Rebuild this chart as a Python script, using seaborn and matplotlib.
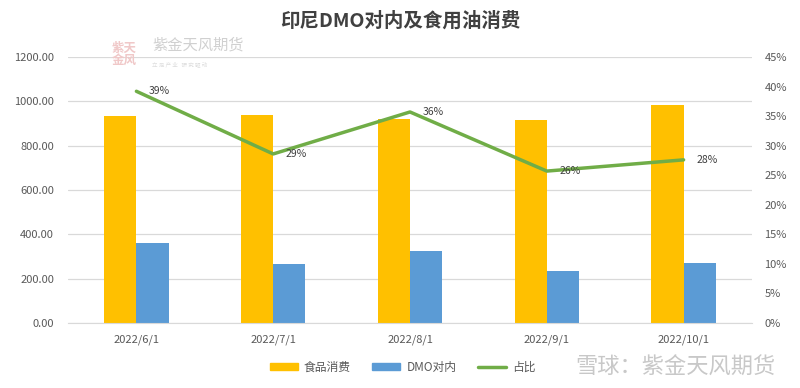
#%% ---- Load Packages ----
import pandas as pd
import numpy as np
import matplotlib
matplotlib.use("Agg")
import matplotlib.pyplot as plt
import seaborn as sns
from matplotlib.lines import Line2D
from matplotlib.patches import Patch

# %% ---- Data ----
dates = ["2022/6/1", "2022/7/1", "2022/8/1", "2022/9/1", "2022/10/1"]
food = [934, 937, 920, 916, 982]      # 食品消费
dmo = [362, 266, 326, 235, 269]       # DMO对内
ratio = [39.2, 28.6, 35.7, 25.7, 27.6]  # 占比 (%)
ratio_labels = ["39%", "29%", "36%", "26%", "28%"]

df = pd.DataFrame({
    "date": dates * 2,
    "value": food + dmo,
    "series": ["食品消费"] * len(dates) + ["DMO对内"] * len(dates),
})

# %% ---- Style ----
sns.set_style("white")
plt.rcParams["font.family"] = ["Noto Sans CJK SC", "DejaVu Sans"]
grey = "#595959"
c_food, c_dmo, c_line = "#FFC000", "#5B9BD5", "#70AD47"

fig = plt.figure(figsize=(8, 3.88), dpi=100)
ax = fig.add_axes([0.085, 0.1675, 0.855, 0.6856])

sns.barplot(data=df, x="date", y="value", hue="series",
            palette=[c_food, c_dmo], width=0.47, gap=0, ax=ax,
            legend=False, saturation=1, linewidth=0)

ax.set_xlim(-0.5, 4.5)
ax.set_ylim(0, 1200)
ax.set_yticks(np.arange(0, 1201, 200))
ax.set_yticklabels([f"{v:.2f}" for v in np.arange(0, 1201, 200)])
ax.yaxis.grid(True, color="#D9D9D9", lw=0.9)
ax.set_axisbelow(True)
ax.set_xlabel("")
ax.set_ylabel("")
for s in ["top", "right", "left"]:
    ax.spines[s].set_visible(False)
ax.spines["bottom"].set_color("#D9D9D9")
ax.tick_params(axis="y", length=0, labelsize=8, colors=grey, pad=10)
ax.tick_params(axis="x", length=0, labelsize=8, colors=grey, pad=8)
# small ticks between categories
ax.set_xticks(np.arange(-0.5, 5, 1), minor=True)
ax.tick_params(axis="x", which="minor", length=4, color="#D9D9D9")

# ---- line on secondary axis ----
ax2 = ax.twinx()
x = np.arange(len(dates))
ax2.plot(x, ratio, color=c_line, lw=2.5)
ax2.set_ylim(0, 45)
ax2.set_yticks(np.arange(0, 46, 5))
ax2.set_yticklabels([f"{v}%" for v in range(0, 46, 5)])
ax2.tick_params(axis="y", length=0, labelsize=8, colors=grey, pad=9)
for s in ["top", "right", "left", "bottom"]:
    ax2.spines[s].set_visible(False)
for xi, yi, lab in zip(x, ratio, ratio_labels):
    ax2.annotate(lab, (xi, yi), xytext=(9, 0), textcoords="offset points",
                 ha="left", va="center", fontsize=7.5, color="#404040")

# ---- title & legend ----
fig.text(0.5, 0.945, "印尼DMO对内及食用油消费", ha="center", va="center",
         fontsize=14, fontweight="bold", color="#404040")

handles = [Patch(color=c_food, label="食品消费"),
           Patch(color=c_dmo, label="DMO对内"),
           Line2D([0], [0], color=c_line, lw=2.5, label="占比")]
fig.legend(handles=handles, loc="center", bbox_to_anchor=(0.503, 0.054),
           ncol=3, frameon=False, fontsize=8.5, handlelength=2.4,
           handleheight=0.6, handletextpad=0.5, columnspacing=1.8,
           labelcolor=grey)

# ---- watermarks ----
fig.text(0.19, 0.885, "紫金天风期货", fontsize=11, color="#D0D0D0", va="center")
fig.text(0.19, 0.835, "立 足 产 业   研 究 驱 动", fontsize=4, color="#DDDDDD", va="center")
fig.text(0.155, 0.86, "紫天\n金风", fontsize=9, color="#F0C8C8", va="center",
         ha="center", linespacing=0.9, fontweight="bold")
fig.text(0.97, 0.054, "雪球：紫金天风期货", fontsize=16, color="#C8C8C8",
         ha="right", va="center")

fig.savefig("out.png", dpi=100)
